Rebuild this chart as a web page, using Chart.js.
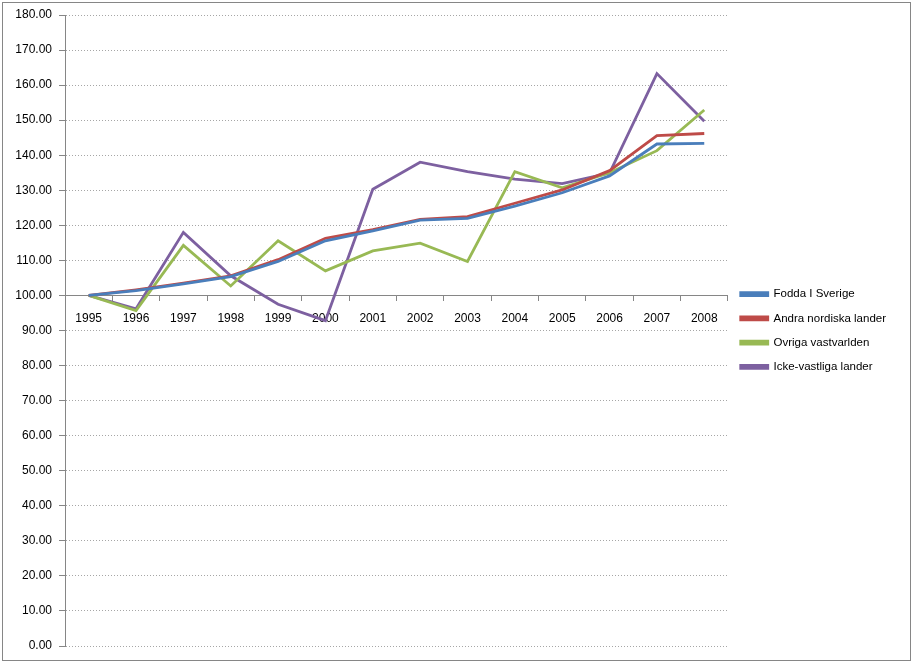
<!DOCTYPE html>
<html>
<head>
<meta charset="utf-8">
<script src="https://cdn.jsdelivr.net/npm/chart.js@4.4.0/dist/chart.umd.min.js"></script>
<style>
  html, body { margin: 0; padding: 0; background: #fff; }
  #wrap { width: 913px; height: 663px; }
</style>
</head>
<body>
<div id="wrap"><canvas id="chartIndex"></canvas></div>
<script>
const years = ['1995', '1996', '1997', '1998', '1999', '2000', '2001', '2002', '2003', '2004', '2005', '2006', '2007', '2008'];

const foddaSverige = [100, 101.4, 103.3, 105.4, 109.7, 115.6, 118.4, 121.5, 122.0, 125.5, 129.3, 134.1, 143.2, 143.4];
const andraNordiska = [100, 101.6, 103.5, 105.6, 110.2, 116.3, 118.8, 121.7, 122.5, 126.3, 130.1, 135.6, 145.6, 146.2];
const ovrigaVast = [100, 95.7, 114.3, 102.7, 115.6, 107.0, 112.7, 114.9, 109.7, 135.3, 130.7, 135.0, 141.3, 152.9];
const ickeVastliga = [100, 96.2, 118.0, 105.6, 97.5, 92.8, 130.3, 138.0, 135.3, 133.2, 131.9, 134.9, 163.3, 149.7];

const yTicks = { min: 0, max: 180, step: 10 };

function serie(label, values, color) {
  return {
    label: label,
    data: values,
    borderColor: color,
    backgroundColor: color,
    borderWidth: 2.8,
    pointRadius: 0,
    pointHoverRadius: 0,
    tension: 0
  };
}

// ram runt hela diagrammet
const ramPlugin = {
  id: 'ram',
  beforeDraw(chart) {
    const ctx = chart.ctx;
    ctx.save();
    ctx.fillStyle = '#fff';
    ctx.fillRect(0, 0, chart.width, chart.height);
    ctx.strokeStyle = '#868686';
    ctx.lineWidth = 1;
    ctx.strokeRect(2.5, 2.5, chart.width - 5, chart.height - 5);
    ctx.restore();
  }
};

const canvas = document.getElementById('chartIndex');

new Chart(canvas, {
  type: 'line',
  data: {
    labels: years,
    datasets: [
      serie('Fodda I Sverige', foddaSverige, '#4A7EBB'),
      serie('Andra nordiska lander', andraNordiska, '#BE4B48'),
      serie('Ovriga vastvarlden', ovrigaVast, '#98B954'),
      serie('Icke-vastliga lander', ickeVastliga, '#7D60A0')
    ]
  },
  options: {
    responsive: true,
    maintainAspectRatio: false,
    animation: false,
    layout: { padding: { top: 15, bottom: 17, left: 0, right: 17 } },
    plugins: {
      tooltip: { enabled: false },
      legend: {
        position: 'right',
        labels: {
          boxWidth: 27,
          boxHeight: 3,
          padding: 12.8,
          color: '#000',
          font: { family: 'Liberation Sans', size: 11.5 }
        }
      }
    },
    scales: {
      y: {
        min: yTicks.min,
        max: yTicks.max,
        afterFit(scale) { scale.width = 65; },
        ticks: {
          stepSize: yTicks.step,
          padding: 7,
          color: '#000',
          font: { family: 'Liberation Sans', size: 12 },
          callback: v => Number(v).toFixed(2)
        },
        grid: { color: '#a6a6a6', tickColor: '#868686', tickLength: 6, tickBorderDash: [] },
        border: { color: '#868686', dash: [1, 2] }
      },
      x: {
        type: 'category',
        position: { y: 100 },
        offset: true,
        ticks: {
          padding: 11,
          color: '#000',
          maxRotation: 0,
          autoSkip: false,
          font: { family: 'Liberation Sans', size: 12 }
        },
        grid: { drawOnChartArea: false, offset: true, tickLength: 5, tickColor: '#868686' },
        border: { color: '#868686' }
      }
    }
  },
  plugins: [ramPlugin]
});
</script>
</body>
</html>
